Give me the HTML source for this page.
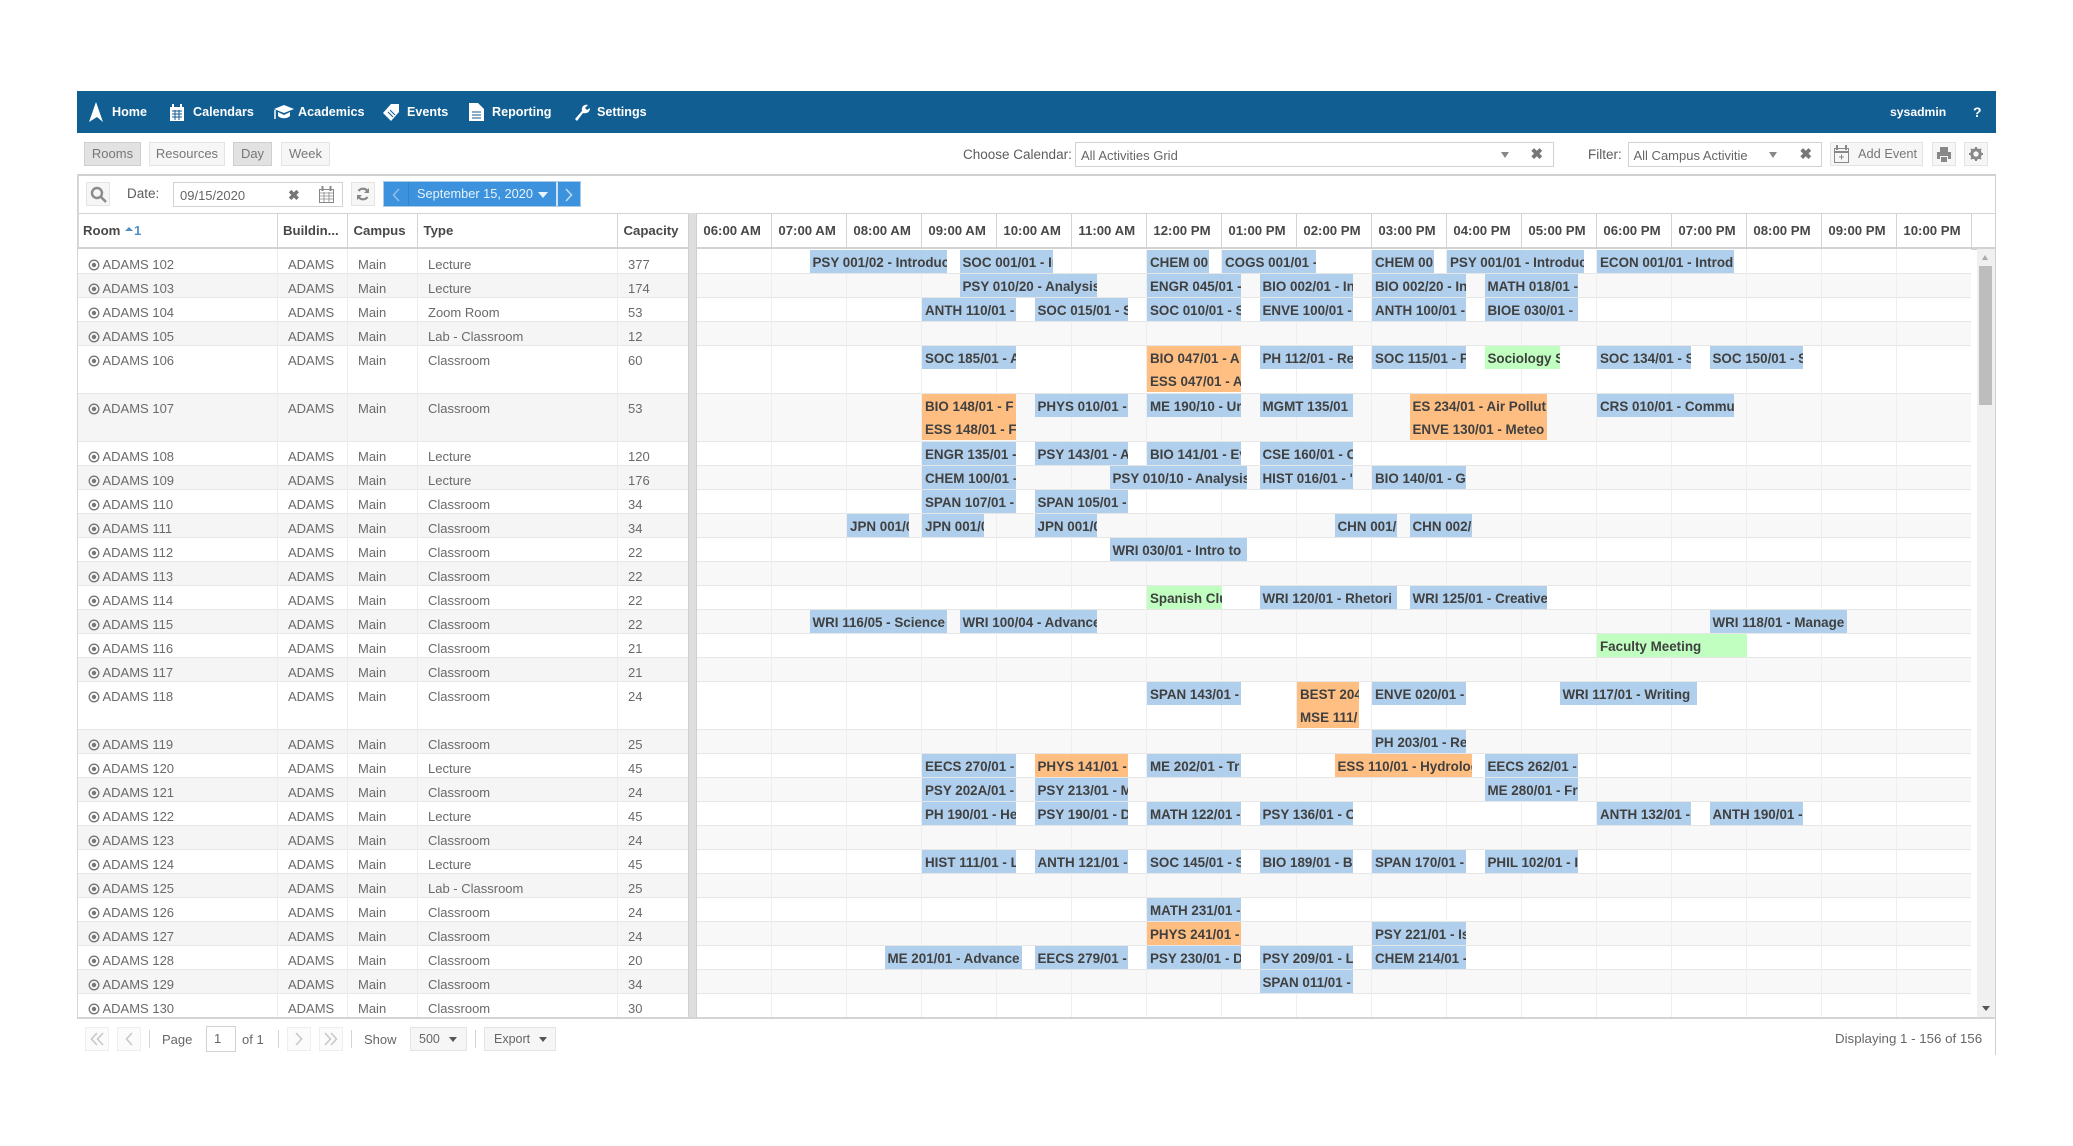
<!DOCTYPE html>
<html lang="en">
<head>
<meta charset="utf-8">
<title>Room Schedule Grid</title>
<style>
html,body{margin:0;padding:0;background:#fff;width:2073px;height:1146px;overflow:hidden}
body{font-family:"Liberation Sans",sans-serif;font-size:13px;color:#666;position:relative}
.a{position:absolute;box-sizing:border-box}
.t{position:absolute;white-space:nowrap;line-height:20px;height:20px}
.btn{position:absolute;box-sizing:border-box;background:#f6f6f6;border:1px solid #e4e4e4;color:#777;text-align:center;font-size:13px;line-height:22px}
.btn.on{background:#e2e2e2;border-color:#cfcfcf}
.pg{background:#fbfbfb;border-color:#eee}
.nav{position:absolute;color:#fff;font-weight:bold;font-size:12.6px;line-height:20px;top:102px;white-space:nowrap}
.ic{position:absolute;overflow:visible}
.th{position:absolute;top:221px;line-height:20px;font-weight:bold;font-size:13.2px;color:#484848;white-space:nowrap}
.cell{position:absolute;white-space:nowrap;line-height:20px;font-size:13px;color:#6a6a6a}
.ev{position:absolute;box-sizing:border-box;overflow:hidden;padding-left:3px;font-weight:bold;font-size:13.4px;line-height:23px;color:#404040;white-space:nowrap}
.ev div{height:23px;position:relative;top:1px}
.sel{position:absolute;box-sizing:border-box;background:#fff;border:1px solid #d2d2d2;font-size:13px;line-height:24px;color:#666;overflow:hidden;white-space:nowrap;padding-left:5px}
.sep{position:absolute;width:1px;background:#d5d5d5}
</style>
</head>
<body>

<div class="a" style="left:77px;top:91px;width:1919px;height:42px;background:#115e93"></div>
<svg class="ic" style="left:88px;top:102px" width="16" height="21" viewBox="0 0 16 21"><path d="M8 0 L15 20 L9 15 L1 20 Z" fill="#fff"/></svg>
<div class="nav" style="left:112px">Home</div>
<svg class="ic" style="left:169px;top:104px" width="16" height="17" viewBox="0 0 16 17"><path d="M1 3h14v14H1z" fill="#fff"/><path d="M3 0h2v4H3zM11 0h2v4h-2z" fill="#fff"/><path d="M3 7h10M3 10h10M3 13h10M6 6v10M10 6v10" stroke="#115e93"/></svg>
<div class="nav" style="left:193px">Calendars</div>
<svg class="ic" style="left:274px;top:105px" width="20" height="15" viewBox="0 0 20 15"><path d="M10 0L20 4 10 8 0 4z" fill="#fff"/><path d="M4 7l6 3 6-3v4c-3 3-9 3-12 0z" fill="#fff"/><path d="M1 5v9" stroke="#fff" stroke-width="1.5"/></svg>
<div class="nav" style="left:298px">Academics</div>
<svg class="ic" style="left:383px;top:104px" width="16" height="17" viewBox="0 0 16 17"><path d="M8 0h8v8L8 17 0 9z" fill="#fff"/><path d="M5 8l5 5M7 6l5 5" stroke="#115e93"/></svg>
<div class="nav" style="left:407px">Events</div>
<svg class="ic" style="left:469px;top:103px" width="15" height="18" viewBox="0 0 15 18"><path d="M0 0h9l6 6v12H0z" fill="#fff"/><path d="M3 9h9M3 12h9M3 15h9" stroke="#115e93"/></svg>
<div class="nav" style="left:492px">Reporting</div>
<svg class="ic" style="left:574px;top:104px" width="16" height="17" viewBox="0 0 16 17"><path d="M1 15L8 7C7 3 10 0 14 1L11 4l2 2 3-2c0 4-3 6-7 5L3 17z" fill="#fff"/></svg>
<div class="nav" style="left:597px">Settings</div>
<div class="nav" style="left:1890px;font-size:12.2px">sysadmin</div>
<div class="nav" style="left:1973px;font-size:14px">?</div>

<div class="btn on" style="left:84px;top:142px;width:57px;height:24px">Rooms</div>
<div class="btn" style="left:149px;top:142px;width:76px;height:24px">Resources</div>
<div class="btn on" style="left:233px;top:142px;width:39px;height:24px">Day</div>
<div class="btn" style="left:281px;top:142px;width:49px;height:24px">Week</div>

<div class="t" style="left:963px;top:145px;font-size:13.5px;color:#5c5c5c">Choose Calendar:</div>
<div class="sel" style="left:1075px;top:142px;width:478.500px;height:25px;padding-top:1px">All Activities Grid</div>
<div class="a" style="left:1501px;top:152px;border-left:4.5px solid transparent;border-right:4.5px solid transparent;border-top:6px solid #888"></div>
<div class="t" style="left:1530.500px;top:145px;font-size:15px;font-weight:bold;color:#777">✖</div>
<div class="t" style="left:1588px;top:145px;font-size:13.5px;color:#5c5c5c">Filter:</div>
<div class="sel" style="left:1627.500px;top:142px;width:194.500px;height:25px;padding-top:1px">All Campus Activitie</div>
<div class="a" style="left:1768.500px;top:152px;border-left:4.5px solid transparent;border-right:4.5px solid transparent;border-top:6px solid #888"></div>
<div class="t" style="left:1799.500px;top:145px;font-size:15px;font-weight:bold;color:#777">✖</div>
<div class="btn" style="left:1830px;top:142px;width:93px;height:24px;padding-left:27px;text-align:left;font-size:12.8px">Add Event</div>
<svg class="ic" style="left:1834px;top:145px" width="15" height="18" viewBox="0 0 15 18"><rect x=".5" y="3.5" width="14" height="14" fill="none" stroke="#888"/><path d="M3 0v5M12 0v5M0 7h15" stroke="#888" stroke-width="2"/><path d="M5 12h5M7.500 9.500v5" stroke="#888"/></svg>
<div class="btn" style="left:1932px;top:142px;width:24px;height:24px"></div>
<svg class="ic" style="left:1937px;top:147px" width="14" height="15" viewBox="0 0 14 15"><path d="M3 0h8v5H3zM0 5h14v7H11V9H3v3H0zM4 10h6v5H4z" fill="#888"/></svg>
<div class="btn" style="left:1964px;top:142px;width:24px;height:24px"></div>
<svg class="ic" style="left:1969px;top:147px" width="14" height="14" viewBox="0 0 14 14"><circle cx="7" cy="7" r="4.200" fill="none" stroke="#888" stroke-width="3"/><path d="M7 0v14M0 7h14M2 2l10 10M12 2L2 12" stroke="#888" stroke-width="2" stroke-dasharray="2.500 9 2.500 0"/></svg>

<div class="a" style="left:77px;top:174px;width:1919px;height:2px;background:#d0d0d0"></div>
<div class="a" style="left:77px;top:174px;width:1.5px;height:844px;background:#d6d6d6"></div>
<div class="a" style="left:1995px;top:174px;width:1px;height:881px;background:#d0d0d0"></div>

<div class="btn" style="left:86px;top:182px;width:24px;height:24px"></div>
<svg class="ic" style="left:90px;top:186px" width="17" height="17" viewBox="0 0 17 17"><circle cx="7" cy="7" r="5" fill="none" stroke="#8b8b8b" stroke-width="2.400"/><path d="M10.500 10.500L16 16" stroke="#8b8b8b" stroke-width="2.600"/></svg>
<div class="t" style="left:127px;top:184px;font-size:13.5px;color:#5c5c5c">Date:</div>
<div class="sel" style="left:173px;top:182px;width:170px;height:25px;padding-left:6px;padding-top:1px">09/15/2020</div>
<div class="t" style="left:288px;top:185px;font-size:14px;font-weight:bold;color:#777">✖</div>
<svg class="ic" style="left:319px;top:186px" width="15" height="17" viewBox="0 0 15 17"><rect x=".5" y="3.500" width="14" height="13" fill="none" stroke="#888"/><path d="M3.500 0v5M11.500 0v5" stroke="#888" stroke-width="2"/><path d="M1 7h13M1 10h13M1 13h13M5 6v10M10 6v10" stroke="#888" stroke-width=".8"/></svg>
<div class="btn" style="left:351px;top:182px;width:24px;height:24px"></div>
<svg class="ic" style="left:356px;top:187px" width="14" height="14" viewBox="0 0 14 14"><path d="M12 5A5.500 5.500 0 0 0 2.500 4M2 9a5.500 5.500 0 0 0 9.500 1" fill="none" stroke="#888" stroke-width="2.200"/><path d="M13 1v5H8zM1 13V8h5z" fill="#888"/></svg>
<div class="a" style="left:383px;top:181px;width:198px;height:26px;background:#3c92dc;border:1px solid #a9cbe8"></div>
<div class="a" style="left:408px;top:182px;width:1px;height:24px;background:#3584c8"></div>
<div class="a" style="left:556px;top:182px;width:2px;height:24px;background:#cfe2f3"></div>
<svg class="ic" style="left:392px;top:188px" width="8" height="14" viewBox="0 0 8 14"><path d="M7 1L1.500 7 7 13" fill="none" stroke="#8fbde8" stroke-width="1.600"/></svg>
<svg class="ic" style="left:565px;top:188px" width="8" height="14" viewBox="0 0 8 14"><path d="M1 1L6.500 7 1 13" fill="none" stroke="#bcdaf4" stroke-width="1.600"/></svg>
<div class="t" style="left:417px;top:184px;color:#e8f3fc;font-size:12.8px">September 15, 2020</div>
<div class="a" style="left:538px;top:192px;border-left:5px solid transparent;border-right:5px solid transparent;border-top:6px solid #eaf4fc"></div>

<div class="a" style="left:77px;top:213px;width:1919px;height:1px;background:#d4d4d4"></div>
<div class="a" style="left:77px;top:247px;width:1918px;height:2.500px;background:#d2d2d2"></div>
<div class="th" style="left:83px">Room</div>
<div class="a" style="left:124.500px;top:227px;border-left:4px solid transparent;border-right:4px solid transparent;border-bottom:4px solid #4f8fc8"></div>
<div class="th" style="left:134px;color:#4f8fc8">1</div>
<div class="th" style="left:283px">Buildin...</div>
<div class="th" style="left:353.500px">Campus</div>
<div class="th" style="left:423.500px">Type</div>
<div class="th" style="left:623.500px">Capacity</div>

<div id="grid"></div>

<div class="a" style="left:688px;top:213px;width:8.500px;height:805px;background:#dedede;border-left:1px solid #d0d0d0;border-right:1px solid #cfcfcf"></div>
<div class="a" style="left:1977px;top:249px;width:18px;height:768px;background:#f0f0f0"></div>
<div class="a" style="left:1979px;top:266px;width:13px;height:139px;background:#bdbdbd"></div>
<div class="a" style="left:1982px;top:255px;border-left:3.500px solid transparent;border-right:3.500px solid transparent;border-bottom:5px solid #aaa"></div>
<div class="a" style="left:1981.500px;top:1006px;border-left:4px solid transparent;border-right:4px solid transparent;border-top:5px solid #555"></div>
<div class="a" style="left:77px;top:1017px;width:1919px;height:1.500px;background:#d4d4d4"></div>

<div class="btn pg" style="left:85px;top:1027px;width:24px;height:24px"></div>
<svg class="ic" style="left:90px;top:1032px" width="14" height="14" viewBox="0 0 14 14"><path d="M7 1L1.500 7 7 13M13 1L7.500 7 13 13" fill="none" stroke="#c8c8c8" stroke-width="1.600"/></svg>
<div class="btn pg" style="left:117px;top:1027px;width:24px;height:24px"></div>
<svg class="ic" style="left:125px;top:1032px" width="8" height="14" viewBox="0 0 8 14"><path d="M7 1L1.500 7 7 13" fill="none" stroke="#c8c8c8" stroke-width="1.600"/></svg>
<div class="sep" style="left:149px;top:1030px;height:18px"></div>
<div class="t" style="left:162px;top:1030px;color:#666">Page</div>
<div class="sel" style="left:206px;top:1026px;width:30px;height:26px;padding-left:7px;color:#666">1</div>
<div class="t" style="left:242px;top:1030px;color:#666">of 1</div>
<div class="sep" style="left:278px;top:1030px;height:18px"></div>
<div class="btn pg" style="left:287px;top:1027px;width:24px;height:24px"></div>
<svg class="ic" style="left:295px;top:1032px" width="8" height="14" viewBox="0 0 8 14"><path d="M1 1L6.500 7 1 13" fill="none" stroke="#c8c8c8" stroke-width="1.600"/></svg>
<div class="btn pg" style="left:319px;top:1027px;width:24px;height:24px"></div>
<svg class="ic" style="left:324px;top:1032px" width="14" height="14" viewBox="0 0 14 14"><path d="M1 1L6.500 7 1 13M7 1L12.500 7 7 13" fill="none" stroke="#c8c8c8" stroke-width="1.600"/></svg>
<div class="sep" style="left:351px;top:1030px;height:18px"></div>
<div class="t" style="left:364px;top:1030px;color:#666">Show</div>
<div class="btn" style="left:410px;top:1027px;width:57px;height:24px;text-align:left;padding-left:8px;font-size:12.500px;color:#666">500</div>
<div class="a" style="left:449px;top:1037px;border-left:4.500px solid transparent;border-right:4.500px solid transparent;border-top:5px solid #555"></div>
<div class="sep" style="left:475px;top:1030px;height:18px"></div>
<div class="btn" style="left:484px;top:1027px;width:72px;height:24px;text-align:left;padding-left:9px;font-size:12.500px;color:#666">Export</div>
<div class="a" style="left:539px;top:1037px;border-left:4.500px solid transparent;border-right:4.500px solid transparent;border-top:5px solid #555"></div>
<div class="t" style="left:1835px;top:1029px;font-size:13.3px;color:#666">Displaying 1 - 156 of 156</div>

<script>
// Time axis
const hourLabels = ["06:00 AM","07:00 AM","08:00 AM","09:00 AM","10:00 AM","11:00 AM","12:00 PM","01:00 PM","02:00 PM","03:00 PM","04:00 PM","05:00 PM","06:00 PM","07:00 PM","08:00 PM","09:00 PM","10:00 PM"];
const axisStartHour = 6;

// Rooms
const roomNames = ["ADAMS 102","ADAMS 103","ADAMS 104","ADAMS 105","ADAMS 106","ADAMS 107","ADAMS 108","ADAMS 109","ADAMS 110","ADAMS 111","ADAMS 112","ADAMS 113","ADAMS 114","ADAMS 115","ADAMS 116","ADAMS 117","ADAMS 118","ADAMS 119","ADAMS 120","ADAMS 121","ADAMS 122","ADAMS 123","ADAMS 124","ADAMS 125","ADAMS 126","ADAMS 127","ADAMS 128","ADAMS 129","ADAMS 130"];
const roomTypes = ["Lecture","Lecture","Zoom Room","Lab - Classroom","Classroom","Classroom","Lecture","Lecture","Classroom","Classroom","Classroom","Classroom","Classroom","Classroom","Classroom","Classroom","Classroom","Classroom","Lecture","Classroom","Lecture","Classroom","Lecture","Lab - Classroom","Classroom","Classroom","Classroom","Classroom","Classroom"];
const roomCapacities = [377,174,53,12,60,53,120,176,34,34,22,22,22,22,21,21,24,25,45,24,45,24,45,25,24,24,20,34,30];

// Events: parallel arrays (room name suffix, start hour, end hour, kind, label; "|" splits a two-line label)
const eventRooms = [102,102,102,102,102,102,102,
103,103,103,103,103,
104,104,104,104,104,104,
106,106,106,106,106,106,106,
107,107,107,107,107,107,
108,108,108,108,
109,109,109,109,
110,110,
111,111,111,111,111,
112,
114,114,114,
115,115,115,
116,
118,118,118,118,
119,
120,120,120,120,120,
121,121,121,
122,122,122,122,122,122,
124,124,124,124,124,124,
126,
127,127,
128,128,128,128,128,
129];
const eventStarts = [7.5,9.5,12,13,15,16,18,
9.5,12,13.5,15,16.5,
9,10.5,12,13.5,15,16.5,
9,12,13.5,15,16.5,18,19.5,
9,10.5,12,13.5,15.5,18,
9,10.5,12,13.5,
9,11.5,13.5,15,
9,10.5,
8,9,10.5,14.5,15.5,
11.5,
12,13.5,15.5,
7.5,9.5,19.5,
18,
12,14,15,17.5,
15,
9,10.5,12,14.5,16.5,
9,10.5,16.5,
9,10.5,12,13.5,18,19.5,
9,10.5,12,13.5,15,16.5,
12,
12,15,
8.5,10.5,12,13.5,15,
13.5];
const eventEnds = [9.33,10.75,12.83,14.25,15.83,17.83,19.83,
11.33,13.25,14.75,16.25,17.75,
10.25,11.75,13.25,14.75,16.25,17.75,
10.25,13.25,14.75,16.25,17.5,19.25,20.75,
10.25,11.75,13.25,14.75,17.33,19.83,
10.25,11.75,13.25,14.75,
10.25,13.33,14.75,16.25,
10.25,11.75,
8.83,9.83,11.33,15.33,16.33,
13.33,
13,15.33,17.33,
9.33,11.33,21.33,
20,
13.25,14.83,16.25,19.33,
16.25,
10.25,11.75,13.25,16.33,17.75,
10.25,11.75,17.75,
10.25,11.75,13.25,14.75,19.25,20.75,
10.25,11.75,13.25,14.75,16.25,17.75,
13.25,
13.25,16.25,
10.33,11.75,13.25,14.75,16.25,
14.75];
const eventKinds = ["b","b","b","b","b","b","b",
"b","b","b","b","b",
"b","b","b","b","b","b",
"b","o","b","b","g","b","b",
"o","b","b","b","o","b",
"b","b","b","b",
"b","b","b","b",
"b","b",
"b","b","b","b","b",
"b",
"g","b","b",
"b","b","b",
"g",
"b","o","b","b",
"b",
"b","o","b","o","b",
"b","b","b",
"b","b","b","b","b","b",
"b","b","b","b","b","b",
"b",
"o","b",
"b","b","b","b","b",
"b"];
const eventLabels = ["PSY 001/02 - Introduc","SOC 001/01 - In","CHEM 001","COGS 001/01 -","CHEM 001","PSY 001/01 - Introduc","ECON 001/01 - Introd",
"PSY 010/20 - Analysis","ENGR 045/01 -","BIO 002/01 - In","BIO 002/20 - In","MATH 018/01 -",
"ANTH 110/01 -","SOC 015/01 - S","SOC 010/01 - S","ENVE 100/01 -","ANTH 100/01 -","BIOE 030/01 -",
"SOC 185/01 - A","BIO 047/01 - A|ESS 047/01 - A","PH 112/01 - Re","SOC 115/01 - P","Sociology S","SOC 134/01 - S","SOC 150/01 - S",
"BIO 148/01 - F|ESS 148/01 - F","PHYS 010/01 -","ME 190/10 - Ur","MGMT 135/01","ES 234/01 - Air Pollut|ENVE 130/01 - Meteo","CRS 010/01 - Commun",
"ENGR 135/01 -","PSY 143/01 - A","BIO 141/01 - Ev","CSE 160/01 - C",
"CHEM 100/01 -","PSY 010/10 - Analysis","HIST 016/01 - '","BIO 140/01 - G",
"SPAN 107/01 -","SPAN 105/01 -",
"JPN 001/01","JPN 001/02","JPN 001/03","CHN 001/","CHN 002/",
"WRI 030/01 - Intro to",
"Spanish Clu","WRI 120/01 - Rhetori","WRI 125/01 - Creative",
"WRI 116/05 - Science","WRI 100/04 - Advance","WRI 118/01 - Manage",
"Faculty Meeting",
"SPAN 143/01 -","BEST 204/|MSE 111/","ENVE 020/01 -","WRI 117/01 - Writing",
"PH 203/01 - Re",
"EECS 270/01 - I","PHYS 141/01 -","ME 202/01 - Tr","ESS 110/01 - Hydrolog","EECS 262/01 - I",
"PSY 202A/01 -","PSY 213/01 - M","ME 280/01 - Fr",
"PH 190/01 - He","PSY 190/01 - D","MATH 122/01 -","PSY 136/01 - C","ANTH 132/01 -","ANTH 190/01 -",
"HIST 111/01 - L","ANTH 121/01 -","SOC 145/01 - S","BIO 189/01 - B","SPAN 170/01 -","PHIL 102/01 - I",
"MATH 231/01 -",
"PHYS 241/01 -","PSY 221/01 - Is",
"ME 201/01 - Advance","EECS 279/01 -","PSY 230/01 - D","PSY 209/01 - L","CHEM 214/01 -",
"SPAN 011/01 -"];

const kindColors = {b:"rgba(167,202,234,.9)",o:"rgba(255,178,106,.83)",g:"rgba(185,255,185,.9)"};
const hourWidth = 75, axisLeft = 696.4, rowBase = 24, gridTop = 249;

function xScale(hour){ return axisLeft + (hour - axisStartHour) * hourWidth; }

const grid = document.getElementById('grid');
const axisRight = xScale(axisStartHour + hourLabels.length);

// row layout: a room is double height if any of its events has two lines
const roomHeights = roomNames.map(function(name){
  const id = Number(name.split(' ')[1]);
  const tall = eventRooms.some(function(r, i){ return r === id && eventLabels[i].indexOf('|') >= 0; });
  return tall ? rowBase * 2 : rowBase;
});
const roomTops = [];
roomHeights.reduce(function(y, h, i){ roomTops[i] = y; return y + h; }, gridTop);
const gridBottom = roomTops[roomTops.length - 1] + roomHeights[roomHeights.length - 1];

function box(style, cls){
  const el = document.createElement('div');
  el.className = cls || 'a';
  for (const k in style) el.style[k] = style[k];
  grid.appendChild(el);
  return el;
}

// zebra rows
roomNames.forEach(function(name, i){
  const top = roomTops[i], h = roomHeights[i], alt = i % 2 === 1;
  const left = box({left:'78px',top:top+'px',width:'610px',height:h+'px',background:alt?'#f5f5f5':'#fff',borderTop:i?'1px solid #e6e6e6':'none'});
  
  
  const right = box({left:'696px',top:top+'px',width:(axisRight-696)+'px',height:h+'px',background:alt?'#f8f8f8':'#fff',borderTop:i?'1px solid #e6e6e6':'none'});
  
  
});

// column lines (left table)
[277,347,417,617].forEach(function(x){
  const line = box({left:x+'px',top:'214px',width:'1px',height:'33px',background:'#d4d4d4'});
  
  
  const body = box({left:x+'px',top:gridTop+'px',width:'1px',height:(gridBottom-gridTop)+'px',background:'#ececec'});
  
  
});

// hour grid and labels
hourLabels.forEach(function(label, i){
  const x = xScale(axisStartHour + i);
  const head = box({left:x+'px',top:'214px',width:'1px',height:'33px',background:'#d4d4d4'});
  
  
  const line = box({left:x+'px',top:gridTop+'px',width:'1px',height:(gridBottom-gridTop)+'px',background:'#eeeeee'});
  
  
  const t = box({left:(x+7)+'px'}, 'th');
  t.textContent = label;
  
  
});
const endHead = box({left:axisRight+'px',top:'214px',width:'1px',height:'33px',background:'#d4d4d4'});



// row text
roomNames.forEach(function(name, i){
  const y = roomTops[i] + 6;
  const icon = document.createElementNS('http://www.w3.org/2000/svg', 'svg');
  icon.setAttribute('width', '12');
  icon.setAttribute('height', '12');
  icon.setAttribute('viewBox', '0 0 12 12');
  icon.setAttribute('class', 'ic');
  icon.style.left = '88px';
  icon.style.top = (y + 4) + 'px';
  icon.innerHTML = '<circle cx="6" cy="6" r="4.800" fill="none" stroke="#777" stroke-width="1.300"/><circle cx="6" cy="6" r="2.200" fill="#777"/>';
  
  
  grid.appendChild(icon);
  const cols = [[102.5,name,'room-name'],[288,'ADAMS','building-name'],[358,'Main','campus-name'],[428,roomTypes[i],'room-type'],[628,String(roomCapacities[i]),'room-capacity']];
  cols.forEach(function(c){
    const t = box({left:c[0]+'px',top:y+'px'}, 'cell');
    t.textContent = c[1];
    
    
  });
});

// events
eventRooms.forEach(function(room, i){
  const r = roomNames.indexOf('ADAMS ' + room);
  const lines = eventLabels[i].split('|');
  const x0 = xScale(eventStarts[i]) + 0.6, x1 = xScale(eventEnds[i]) + 0.6;
  const ev = box({left:x0+'px',top:(roomTops[r]+1)+'px',width:(x1-x0)+'px',height:(23*lines.length)+'px',background:kindColors[eventKinds[i]]}, 'ev');
  lines.forEach(function(line){
    const d = document.createElement('div');
    d.textContent = line;
    ev.appendChild(d);
  });
  
  
});
</script>
</body>
</html>
